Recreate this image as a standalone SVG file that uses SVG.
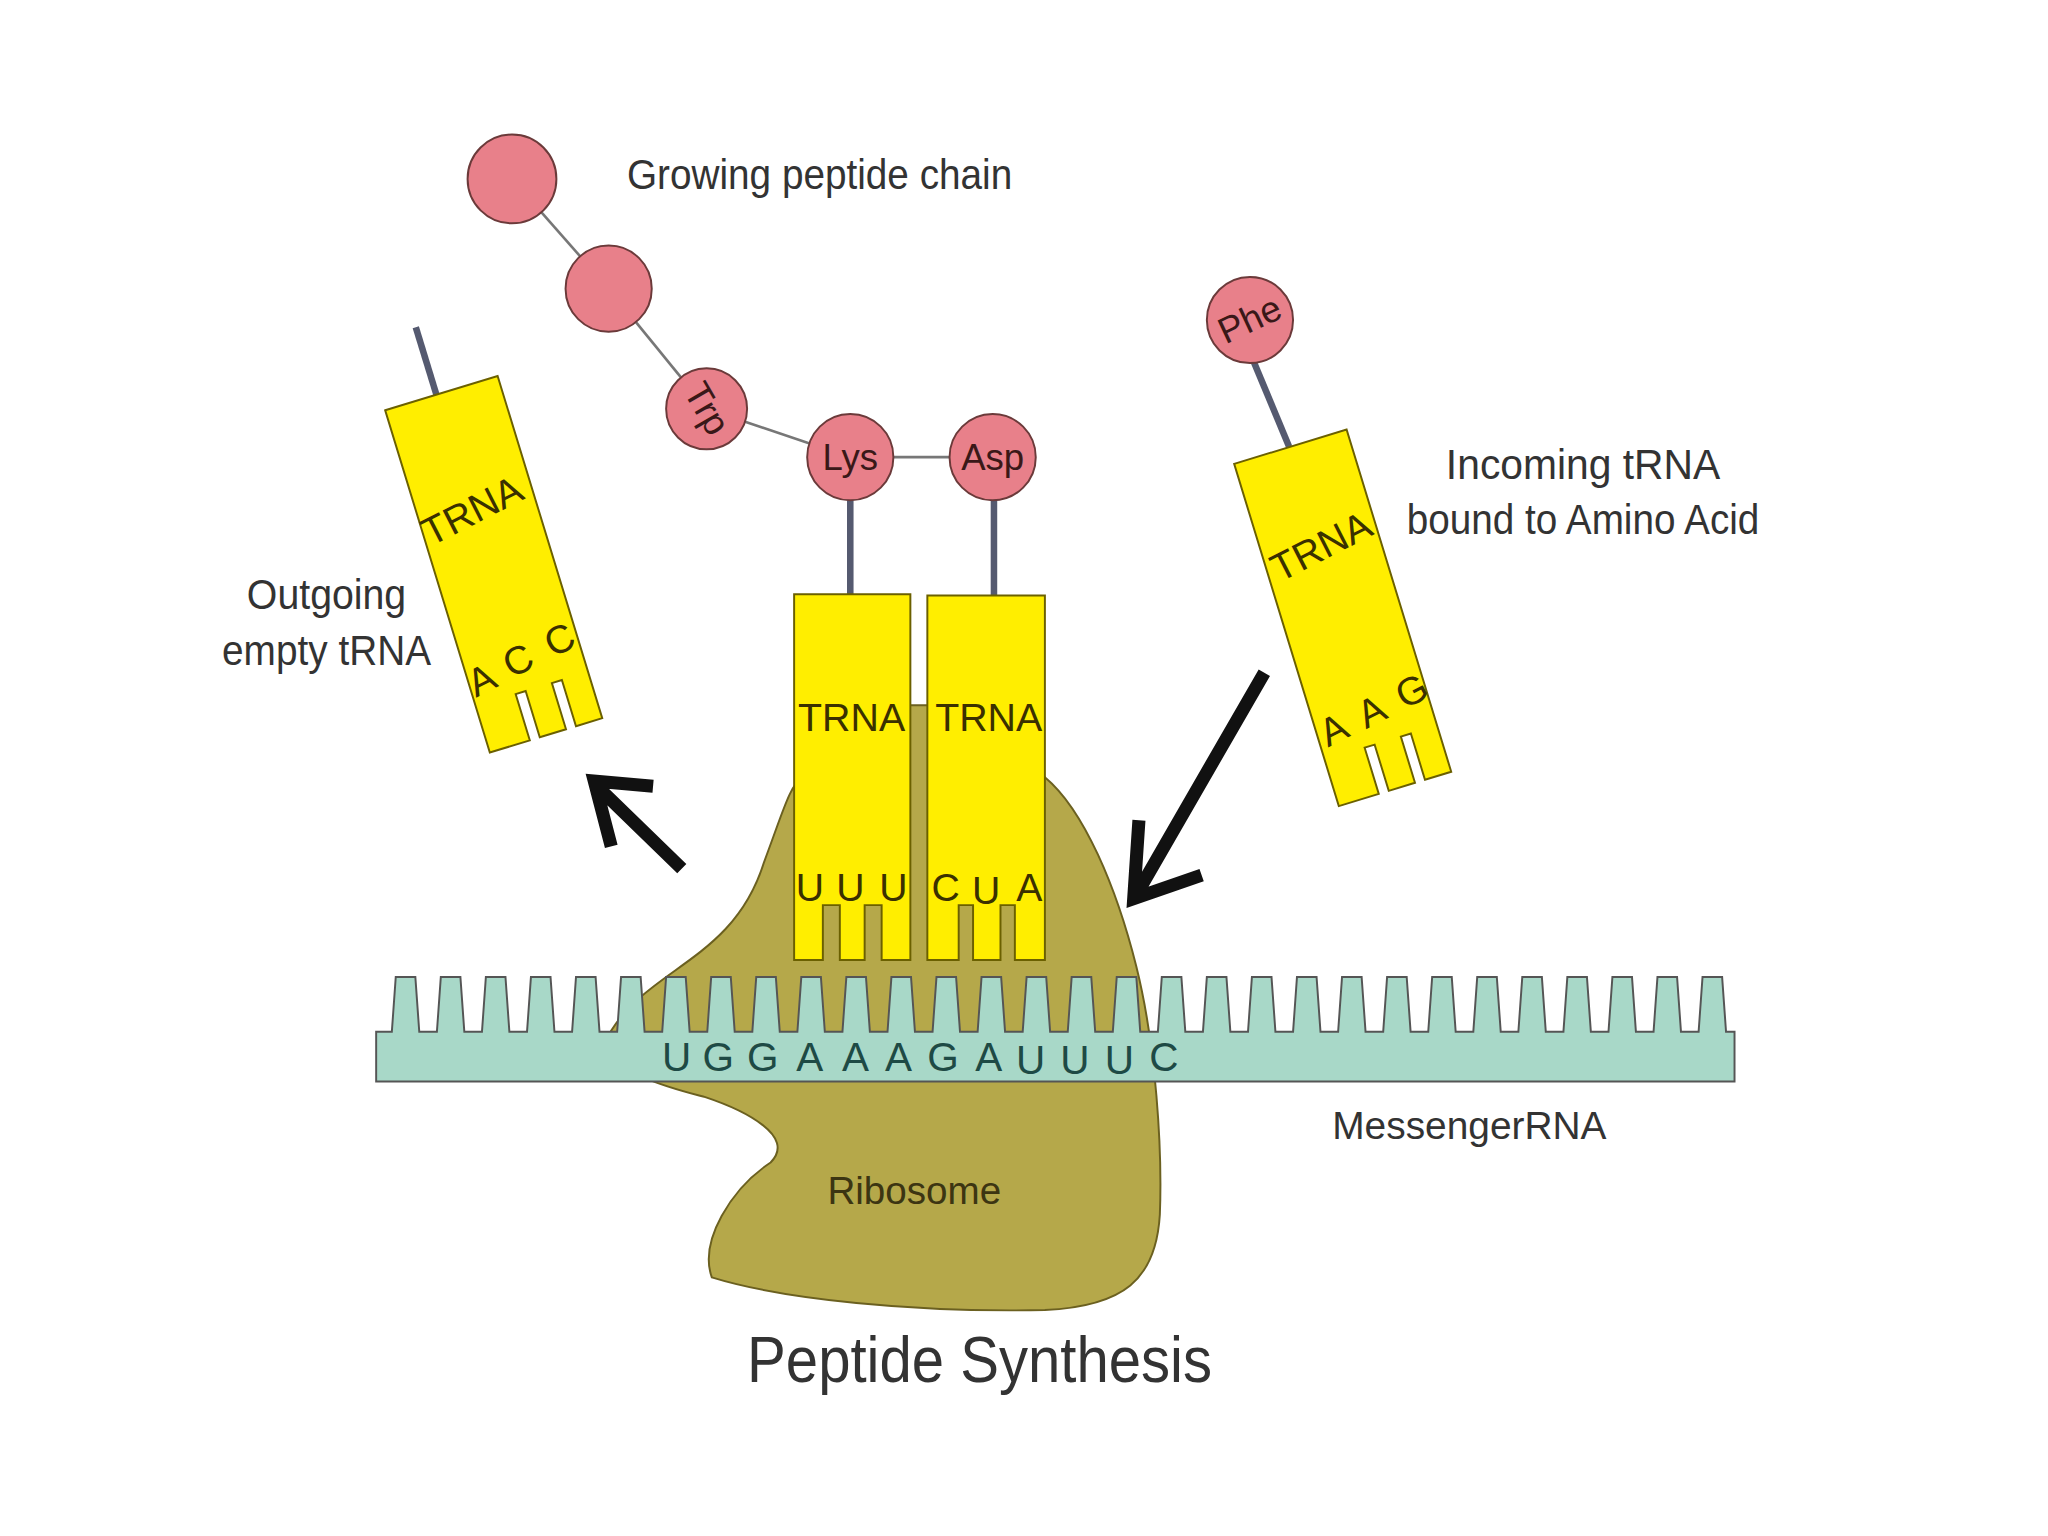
<svg xmlns="http://www.w3.org/2000/svg" width="2048" height="1536" viewBox="0 0 2048 1536">
<style>
.lbl{font-family:"Liberation Sans",Arial,sans-serif;fill:#333}
.aa{fill:#e8808a;stroke:#6b3a3a;stroke-width:1.5}
.aat{font-family:"Liberation Sans",Arial,sans-serif;font-size:28px;fill:#3a1818;text-anchor:middle}
.stick{stroke:#555a70;stroke-width:5}
.link{stroke:#777;stroke-width:2}
.trna{fill:#ffee00;stroke:#6b6000;stroke-width:1.5}
.tt{font-family:"Liberation Sans",Arial,sans-serif;font-size:30px;fill:#3a3000;text-anchor:middle}
.arr{fill:none;stroke:#111;stroke-width:10}
</style>
<rect width="2048" height="1536" fill="#fff"/>
<g transform="scale(1.30612)">
<g id="ribosome">
<path d="M462 800 C490 740 560 740 585 660 C600 620 605 600 615 595 L690 540 L720 540 L800 595 C830 620 855 680 870 740 C885 800 890 880 888 930 C885 980 860 1000 800 1003 C700 1005 600 995 545 978 C535 950 560 910 590 890 C610 870 570 850 540 840 C510 832 480 825 462 800 Z" fill="#b5a84a" stroke="#6b6020" stroke-width="1.5"/>
<text class="lbl" x="700" y="922" font-size="30" text-anchor="middle" textLength="133" lengthAdjust="spacingAndGlyphs" style="fill:#3c3512">Ribosome</text>
</g>
<g id="mrna">
<path d="M288 828 L288 790 L300 790 l3 -42 l15 0 l3 42 l13.5 0 l3 -42 l15 0 l3 42 l13.5 0 l3 -42 l15 0 l3 42 l13.5 0 l3 -42 l15 0 l3 42 l13.5 0 l3 -42 l15 0 l3 42 l13.5 0 l3 -42 l15 0 l3 42 l13.5 0 l3 -42 l15 0 l3 42 l13.5 0 l3 -42 l15 0 l3 42 l13.5 0 l3 -42 l15 0 l3 42 l13.5 0 l3 -42 l15 0 l3 42 l13.5 0 l3 -42 l15 0 l3 42 l13.5 0 l3 -42 l15 0 l3 42 l13.5 0 l3 -42 l15 0 l3 42 l13.5 0 l3 -42 l15 0 l3 42 l13.5 0 l3 -42 l15 0 l3 42 l13.5 0 l3 -42 l15 0 l3 42 l13.5 0 l3 -42 l15 0 l3 42 l13.5 0 l3 -42 l15 0 l3 42 l13.5 0 l3 -42 l15 0 l3 42 l13.5 0 l3 -42 l15 0 l3 42 l13.5 0 l3 -42 l15 0 l3 42 l13.5 0 l3 -42 l15 0 l3 42 l13.5 0 l3 -42 l15 0 l3 42 l13.5 0 l3 -42 l15 0 l3 42 l13.5 0 l3 -42 l15 0 l3 42 l13.5 0 l3 -42 l15 0 l3 42 l13.5 0 l3 -42 l15 0 l3 42 l13.5 0 l3 -42 l15 0 l3 42 l13.5 0 l3 -42 l15 0 l3 42 l13.5 0 l3 -42 l15 0 l3 42 L1328 790 L1328 828 Z" fill="#a8d8c8" stroke="#555" stroke-width="1.5"/>
<g font-family="Liberation Sans,Arial,sans-serif" font-size="31" fill="#1e4a45" text-anchor="middle">
<text x="518" y="820">U</text><text x="550" y="820">G</text><text x="584" y="820">G</text><text x="620" y="820">A</text><text x="655" y="820">A</text><text x="688" y="820">A</text><text x="722" y="820">G</text><text x="757" y="820">A</text><text x="789" y="822">U</text><text x="823" y="822">U</text><text x="857" y="822">U</text><text x="891" y="820">C</text>
</g>
<text class="lbl" x="1020" y="872" font-size="30" textLength="210" lengthAdjust="spacingAndGlyphs">MessengerRNA</text>
</g>
<g id="connectors">
<line class="link" x1="392" y1="137" x2="466" y2="221"/>
<line class="link" x1="466" y1="221" x2="541" y2="313"/>
<line class="link" x1="541" y1="313" x2="651" y2="350"/>
<line class="link" x1="651" y1="350" x2="760" y2="350"/>
<line class="stick" x1="651" y1="383" x2="651" y2="455"/>
<line class="stick" x1="761" y1="383" x2="761" y2="456"/>
<line class="stick" x1="957" y1="270" x2="987" y2="342"/>
<path class="arr" d="M522 665 L455 600 M500 602 L455 598 L468 648"/>
<path class="arr" d="M968 515 L870 685 M872 628 L868 688 L920 670"/>
</g>
<g id="chain">
<circle class="aa" cx="392" cy="137" r="34"/>
<circle class="aa" cx="466" cy="221" r="33"/>
<circle class="aa" cx="541" cy="313" r="31"/>
<text class="aat" transform="translate(541,313) rotate(60)" y="9">Trp</text>
<circle class="aa" cx="651" cy="350" r="33"/>
<text class="aat" x="651" y="360">Lys</text>
<circle class="aa" cx="760" cy="350" r="33"/>
<text class="aat" x="760" y="360">Asp</text>
<text class="lbl" x="480" y="145" font-size="32" textLength="295" lengthAdjust="spacingAndGlyphs">Growing peptide chain</text>
</g>
<g id="trna-left">
<path class="trna" d="M608 455 L697 455 L697 735 L675 735 L675 693 L662 693 L662 735 L643 735 L643 693 L630 693 L630 735 L608 735 Z"/>
<text class="tt" x="652" y="560" textLength="82" lengthAdjust="spacingAndGlyphs">TRNA</text>
<text class="tt" x="620" y="690">U</text><text class="tt" x="651" y="690">U</text><text class="tt" x="684" y="690">U</text>
</g>
<g id="trna-right">
<path class="trna" d="M710 456 L800 456 L800 735 L777 735 L777 693 L766 693 L766 735 L745 735 L745 693 L734 693 L734 735 L710 735 Z"/>
<text class="tt" x="757" y="560" textLength="82" lengthAdjust="spacingAndGlyphs">TRNA</text>
<text class="tt" x="724" y="690">C</text><text class="tt" x="755" y="692">U</text><text class="tt" x="788" y="690">A</text>
</g>
<g id="trna-outgoing" transform="translate(378,432) rotate(-17)">
<line class="stick" x1="-4" y1="-191" x2="-4" y2="-137"/>
<path class="trna" d="M-45 -137 L45 -137 L45 137 L24 137 L24 100 L16 100 L16 137 L-5 137 L-5 100 L-13 100 L-13 137 L-45 137 Z"/>
<text class="tt" transform="translate(-2,-34) rotate(-10)" textLength="82" lengthAdjust="spacingAndGlyphs">TRNA</text>
<text class="tt" transform="translate(-33,92) rotate(-10)">A</text>
<text class="tt" transform="translate(-2,86) rotate(-10)">C</text>
<text class="tt" transform="translate(33,80) rotate(-10)">C</text>
</g>
<g id="trna-incoming" transform="translate(1028,473) rotate(-17)">
<path class="trna" d="M-45 -137 L45 -137 L45 137 L24 137 L24 100 L16 100 L16 137 L-5 137 L-5 100 L-13 100 L-13 137 L-45 137 Z"/>
<text class="tt" transform="translate(2,-47) rotate(-10)" textLength="82" lengthAdjust="spacingAndGlyphs">TRNA</text>
<text class="tt" transform="translate(-30,90) rotate(-10)">A</text>
<text class="tt" transform="translate(2,85) rotate(-10)">A</text>
<text class="tt" transform="translate(36,79) rotate(-10)">G</text>
</g>
<g id="phe">
<circle class="aa" cx="957" cy="245" r="33"/>
<text class="aat" transform="translate(957,245) rotate(-25)" y="9">Phe</text>
</g>
<g id="labels">
<text class="lbl" x="1212" y="367" font-size="32" text-anchor="middle" textLength="210" lengthAdjust="spacingAndGlyphs">Incoming  tRNA</text>
<text class="lbl" x="1077" y="409" font-size="32" textLength="270" lengthAdjust="spacingAndGlyphs">bound to Amino Acid</text>
<text class="lbl" x="250" y="466" font-size="32" text-anchor="middle" textLength="122" lengthAdjust="spacingAndGlyphs">Outgoing</text>
<text class="lbl" x="170" y="509" font-size="32" textLength="160" lengthAdjust="spacingAndGlyphs">empty tRNA</text>
<text class="lbl" x="572" y="1058" font-size="50" textLength="356" lengthAdjust="spacingAndGlyphs">Peptide Synthesis</text>
</g>
</g>
</svg>
